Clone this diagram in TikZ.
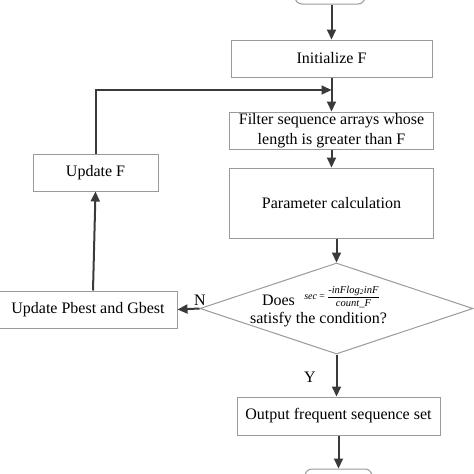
\documentclass[tikz,border=0pt]{standalone}
\usepackage{fontspec}
\setmainfont{Liberation Serif}
\usetikzlibrary{arrows.meta,shapes.geometric}
\definecolor{boxgray}{HTML}{9A9A9A}
\definecolor{arrgray}{HTML}{3A3A3A}
\begin{document}
\begin{tikzpicture}[x=1pt,y=-1pt,
  procbox/.style={draw=boxgray,line width=1pt,fill=white,inner sep=0pt,align=center,
    font=\fontsize{16}{19.5}\selectfont},
  termbox/.style={draw=boxgray,line width=1pt,rounded corners=7pt,inner sep=0pt},
  flow/.style={draw=arrgray,line width=2pt,-{Triangle[length=10pt,width=9pt]}},
  plain/.style={draw=arrgray,line width=2pt},
  lbl/.style={inner sep=0pt,font=\fontsize{16}{19.5}\selectfont}]
\useasboundingbox (0,0) rectangle (474,474);
\node[termbox,minimum width=70pt,minimum height=24pt] (start) at (330,-8) {};
\node[procbox,minimum width=201pt,minimum height=37pt] (init) at (331.5,58.5) {Initialize F};
\node[procbox,minimum width=204pt,minimum height=37pt] (filter) at (331.5,130.5)
  {Filter sequence arrays whose\\length is greater than F};
\node[procbox,minimum width=204pt,minimum height=70pt] (param) at (331.5,203) {Parameter calculation};
\node[procbox,minimum width=125pt,minimum height=37pt] (updf) at (95.5,172.5) {Update F};
\node[draw=boxgray,line width=1pt,diamond,minimum width=273pt,minimum height=91pt,inner sep=0pt] (dec) at (336.5,308.5) {};
\node[lbl] (does) at (278.5,300) {Does};
\node[inner sep=0pt,font=\fontsize{10}{10}\selectfont\itshape] (formula) at (342,297)
  {sec\,=\,$\displaystyle\frac{\hbox{\fontsize{10.5}{10}\selectfont\itshape -inFlog\textsubscript{2}inF}}{\hbox{\fontsize{10.5}{10}\selectfont\itshape count\_F}}$};
\node[lbl] (cond) at (318.5,319.5) {satisfy the condition?};
\node[procbox,minimum width=178pt,minimum height=37pt] (pg) at (88,309.5) {Update Pbest and Gbest};
\node[procbox,minimum width=203pt,minimum height=38pt] (out) at (338.5,416) {Output frequent sequence set};
\node[termbox,minimum width=67pt,minimum height=24pt] (end) at (338.5,481) {};
\coordinate (join) at (331.5,90);
\coordinate (corner) at (95.5,90);
\draw[flow] (init.south |- start.south) -- (init.north);
\draw[flow] (init.south) -- (filter.north);
\draw[plain] (updf.north) -- (corner) -- ([xshift=-9pt]join);
\draw[flow] ([xshift=-10pt]join) -- (join);
\draw[flow] (filter.south) -- (param.north);
\draw[flow] (dec.north |- param.south) -- (dec.north);
\draw[flow] (dec.west) -- (pg.east);
\node[lbl] (nlab) at (200,300) {N};
\draw[flow] (dec.south) -- (dec.south |- out.north);
\node[lbl] (ylab) at (310,377) {Y};
\draw[flow] (out.south) -- (end.north);
\draw[flow] ([xshift=5pt]pg.north) -- (updf.south);
\end{tikzpicture}
\end{document}
